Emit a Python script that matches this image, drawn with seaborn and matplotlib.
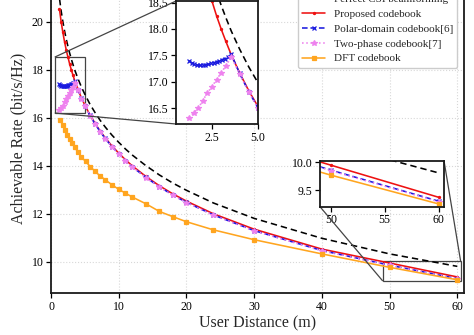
import matplotlib
matplotlib.use("Agg")
import matplotlib.pyplot as plt
import seaborn as sns
from mpl_toolkits.axes_grid1.inset_locator import mark_inset

# ---- data ----
dist = [1.25, 1.5, 1.75, 2.0, 2.25, 2.5, 2.75, 3.0, 3.25, 3.55, 4.0, 4.5, 5.0, 5.75,
        6.5, 7.25, 8.0, 9.0, 10.0, 11.0, 12.0, 14.0, 16.0, 18.0, 20.0, 24.0, 30.0,
        40.0, 50.0, 60.0]
perfect = [20.98, 20.45, 20.01, 19.62, 19.28, 18.98, 18.70, 18.45, 18.22, 17.96, 17.62,
           17.28, 16.98, 16.57, 16.22, 15.90, 15.62, 15.28, 14.98, 14.70, 14.45, 14.01,
           13.62, 13.28, 12.98, 12.45, 11.81, 10.98, 10.33, 9.81]
proposed = [20.53, 20.00, 19.56, 19.17, 18.83, 18.53, 18.25, 18.00, 17.77, 17.51, 17.17,
            16.83, 16.53, 16.12, 15.77, 15.45, 15.17, 14.83, 14.53, 14.25, 14.00, 13.56,
            13.17, 12.83, 12.53, 12.00, 11.36, 10.53, 9.95, 9.37]
two_phase = [16.32, 16.41, 16.50, 16.64, 16.79, 16.91, 17.04, 17.17, 17.30, 17.47, 17.15,
             16.80, 16.50, 16.09, 15.74, 15.42, 15.13, 14.79, 14.49, 14.21, 13.95, 13.51,
             13.12, 12.77, 12.47, 11.94, 11.29, 10.46, 9.85, 9.29]
polar_dist = [1.25, 1.4, 1.55, 1.7, 1.85, 2.0, 2.15, 2.3, 2.45, 2.6, 2.75, 2.9, 3.05,
              3.2, 3.35, 3.55, 4.0, 4.5, 5.0, 5.75, 6.5, 7.25, 8.0, 9.0, 10.0, 11.0,
              12.0, 14.0, 16.0, 18.0, 20.0, 24.0, 30.0, 40.0, 50.0, 60.0]
polar = [17.40, 17.36, 17.34, 17.32, 17.31, 17.31, 17.32, 17.33, 17.35, 17.36, 17.38,
         17.40, 17.42, 17.44, 17.47, 17.52, 17.16, 16.81, 16.51, 16.10, 15.75, 15.43,
         15.14, 14.80, 14.50, 14.22, 13.96, 13.52, 13.13, 12.78, 12.48, 11.95, 11.30,
         10.47, 9.86, 9.30]
dft_dist = [1.3, 1.7, 2.05, 2.4, 2.8, 3.15, 3.5, 4.0, 4.5, 5.1, 5.8, 6.5, 7.2, 8.0, 9.0,
            10.0, 11.0, 12.0, 14.0, 16.0, 18.0, 20.0, 24.0, 30.0, 40.0, 50.0, 60.0]
dft = [15.92, 15.71, 15.50, 15.30, 15.11, 14.95, 14.77, 14.56, 14.37, 14.18, 13.97,
       13.77, 13.59, 13.42, 13.21, 13.02, 12.86, 12.70, 12.42, 12.10, 11.88, 11.67,
       11.33, 10.92, 10.33, 9.77, 9.25]

labels = ["Perfect CSI beamforming", "Proposed codebook", "Polar-domain codebook[6]",
          "Two-phase codebook[7]", "DFT codebook"]

series = [
    (labels[0], dist, perfect, "black", (0, (4, 2.5)), None, 0),
    (labels[1], dist, proposed, "#ee1111", "-", ".", 3.0),
    (labels[2], polar_dist, polar, "#1a1adf", (0, (3.5, 1.8)), "x", 3.2),
    (labels[3], dist, two_phase, "#ee82ee", ":", "*", 3.8),
    (labels[4], dft_dist, dft, "#ffa51f", "-", "s", 3.3),
]

sns.set_theme(style="ticks")
plt.rcParams['font.family'] = ['Liberation Serif', 'DejaVu Serif']
plt.rcParams['axes.edgecolor'] = 'black'


def draw(a):
    handles = []
    for lab, xs, ys, col, ls, mk, ms in series:
        kw = dict(x=xs, y=ys, ax=a, color=col, linestyle=ls, lw=1.15,
                  legend=False, estimator=None, sort=False)
        if mk is not None:
            kw.update(marker=mk, markersize=ms, markeredgecolor=col,
                      markerfacecolor=col, markeredgewidth=0.9)
        sns.lineplot(**kw)
        handles.append(a.lines[-1])
    return handles


def style_axes(a, lw=1.3):
    for s in a.spines.values():
        s.set_visible(True)
        s.set_linewidth(lw)
        s.set_color("#1a1a1a")
    a.tick_params(direction="out", length=3.5, width=0.9, labelsize=8.5,
                  colors="black", pad=2)
    a.set_xlabel("")
    a.set_ylabel("")


fig = plt.figure(figsize=(4.74, 3.35), dpi=100)
ax = fig.add_axes([0.1076, 0.1254, 0.8713, 0.924])
handles = draw(ax)
ax.set_xlim(0, 61)
ax.set_ylim(8.7, 21.6)
ax.set_xticks([0, 10, 20, 30, 40, 50, 60])
ax.set_yticks([10, 12, 14, 16, 18, 20])
style_axes(ax)
ax.grid(True, linestyle=":", color="#d8d8d8", lw=0.8)
ax.set_xlabel("User Distance (m)", fontsize=11.5, labelpad=2)
ax.set_ylabel("Achievable Rate (bit/s/Hz)", fontsize=11.5, labelpad=4)
ax.legend(handles, labels, loc="upper right", fontsize=8, frameon=True,
          fancybox=True, edgecolor="#cccccc", framealpha=1, handlelength=2.0,
          handletextpad=0.8, labelspacing=0.45, borderaxespad=0.6)

# ---- inset 1 (near field) ----
ax1 = fig.add_axes([176 / 474, 1 - 124 / 335, 82 / 474, 123 / 335])
draw(ax1)
ax1.set_xlim(0.55, 5.0)
ax1.set_ylim(16.2, 18.53)
ax1.set_xticks([2.5, 5.0])
ax1.set_yticks([16.5, 17.0, 17.5, 18.0, 18.5])
ax1.set_xticklabels(["2.5", "5.0"])
ax1.set_yticklabels(["16.5", "17.0", "17.5", "18.0", "18.5"])
style_axes(ax1)
ax1.grid(False)
mark_inset(ax, ax1, loc1=2, loc2=3, fc="none", ec="#444444", lw=0.9)

# ---- inset 2 (far field) ----
ax2 = fig.add_axes([320 / 474, 1 - 206.7 / 335, 124 / 474, 46 / 335])
draw(ax2)
ax2.set_xlim(49.0, 60.5)
ax2.set_ylim(9.2, 10.03)
ax2.set_xticks([50, 55, 60])
ax2.set_yticks([9.5, 10.0])
ax2.set_yticklabels(["9.5", "10.0"])
style_axes(ax2)
ax2.grid(False)
mark_inset(ax, ax2, loc1=1, loc2=3, fc="none", ec="#444444", lw=0.9)

fig.savefig("out.png", dpi=100)
